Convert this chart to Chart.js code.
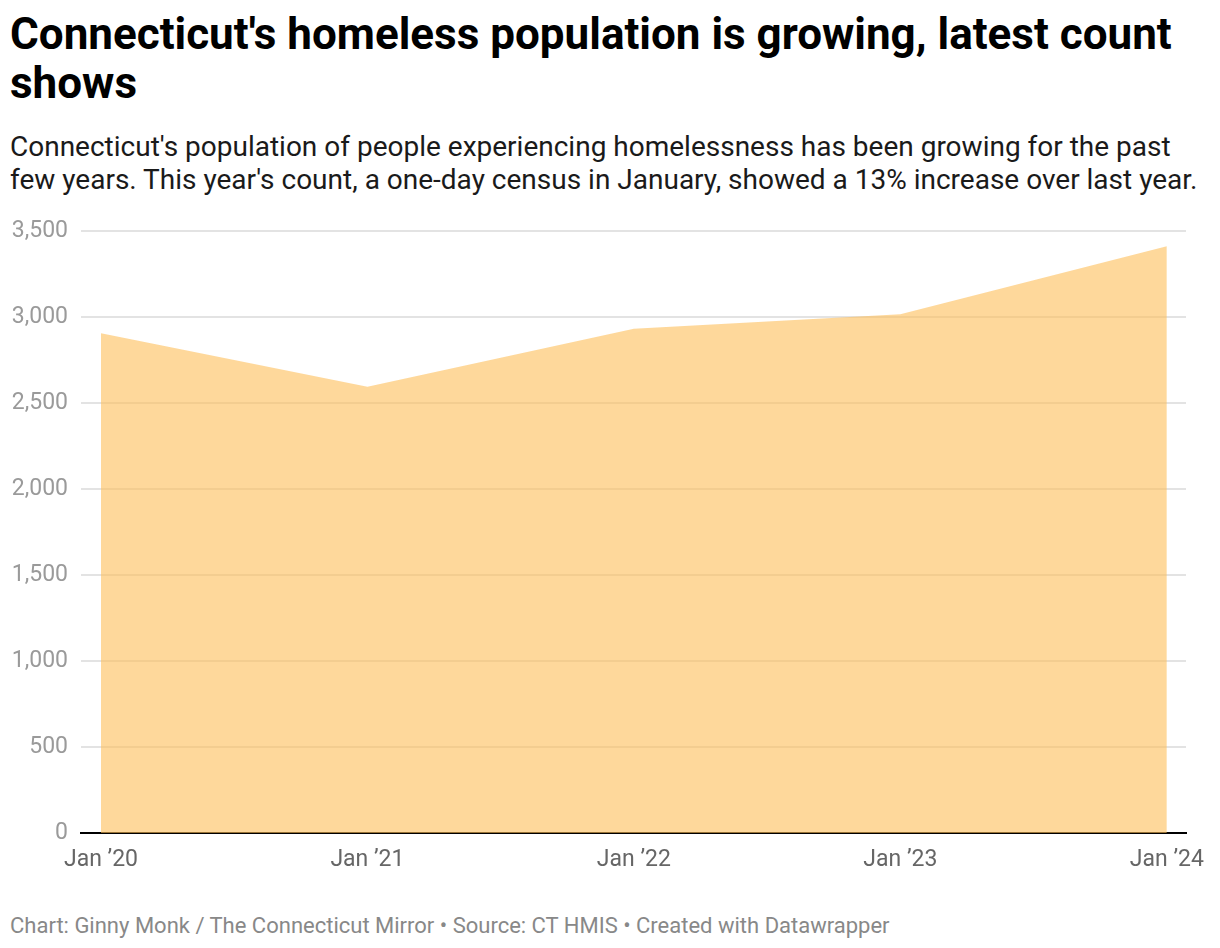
<!DOCTYPE html>
<html>
<head>
<meta charset="utf-8">
<script src="https://cdn.jsdelivr.net/npm/chart.js@4/dist/chart.umd.min.js"></script>
<style>
  body { margin: 0; background: #fff; font-family: Roboto, sans-serif; }
  #title { position: absolute; left: 10px; top: 10px; width: 1210px; font-size: 44px; font-weight: 700; line-height: 49px; color: #000; }
  #sub { position: absolute; left: 10px; top: 130px; width: 1210px; font-size: 28px; line-height: 33px; color: #1a1a1a; }
  #wrap { position: absolute; left: 0; top: 204px; width: 1220px; height: 676px; }
  #foot { position: absolute; left: 10px; top: 913px; font-size: 22px; color: #888; }
</style>
</head>
<body>
<div id="title">Connecticut's homeless population is growing, latest count<br>shows</div>
<div id="sub">Connecticut's population of people experiencing homelessness has been growing for the past<br>few years. This year's count, a one-day census in January, showed a 13% increase over last year.</div>
<div id="wrap"><canvas id="chart"></canvas></div>
<div id="foot">Chart: Ginny Monk / The Connecticut Mirror • Source: CT HMIS • Created with Datawrapper</div>
<script>
var years = ["Jan \u201920", "Jan \u201921", "Jan \u201922", "Jan \u201923", "Jan \u201924"];
var homeless = [2905, 2594, 2930, 3015, 3410];
var yTicks = [0, 500, 1000, 1500, 2000, 2500, 3000, 3500];

var points = [];
homeless.forEach(function (v, i) {
    points.push({x: i, y: v});
});

var ctx = document.getElementById('chart');
var myChart = new Chart(ctx, {
    type: 'line',
    data: {
        datasets: [{
            data: points,
            fill: 'origin',
            backgroundColor: 'rgba(253,190,88,0.6)',
            borderWidth: 0,
            pointRadius: 0,
            tension: 0
        }]
    },
    options: {
        responsive: true,
        maintainAspectRatio: false,
        animation: false,
        layout: { padding: { top: 7, right: 34, bottom: 7, left: 0 } },
        plugins: { legend: { display: false }, tooltip: { enabled: false } },
        scales: {
            x: {
                type: 'linear',
                min: -0.075,
                max: 4.072,
                z: 1,
                afterBuildTicks: function (scale) {
                    scale.ticks = years.map(function (y, i) { return {value: i}; });
                },
                afterFit: function (scale) { scale.height = 40; },
                grid: { display: false },
                border: { display: true, color: '#000', width: 2 },
                ticks: {
                    padding: 5,
                    color: '#666',
                    font: { family: 'Roboto', size: 23 },
                    maxRotation: 0,
                    callback: function (v) { return years[v]; }
                }
            },
            y: {
                min: 0,
                max: 3500,
                afterBuildTicks: function (scale) {
                    scale.ticks = yTicks.map(function (v) { return {value: v}; });
                },
                afterFit: function (scale) { scale.width = 81; },
                border: { display: false },
                grid: { color: '#e3e3e3', lineWidth: 2, drawTicks: false },
                ticks: {
                    padding: 13,
                    color: '#9a9a9a',
                    font: { family: 'Roboto', size: 23 },
                    callback: function (v) { return v.toLocaleString('en-US'); }
                }
            }
        }
    }
});
</script>
</body>
</html>
